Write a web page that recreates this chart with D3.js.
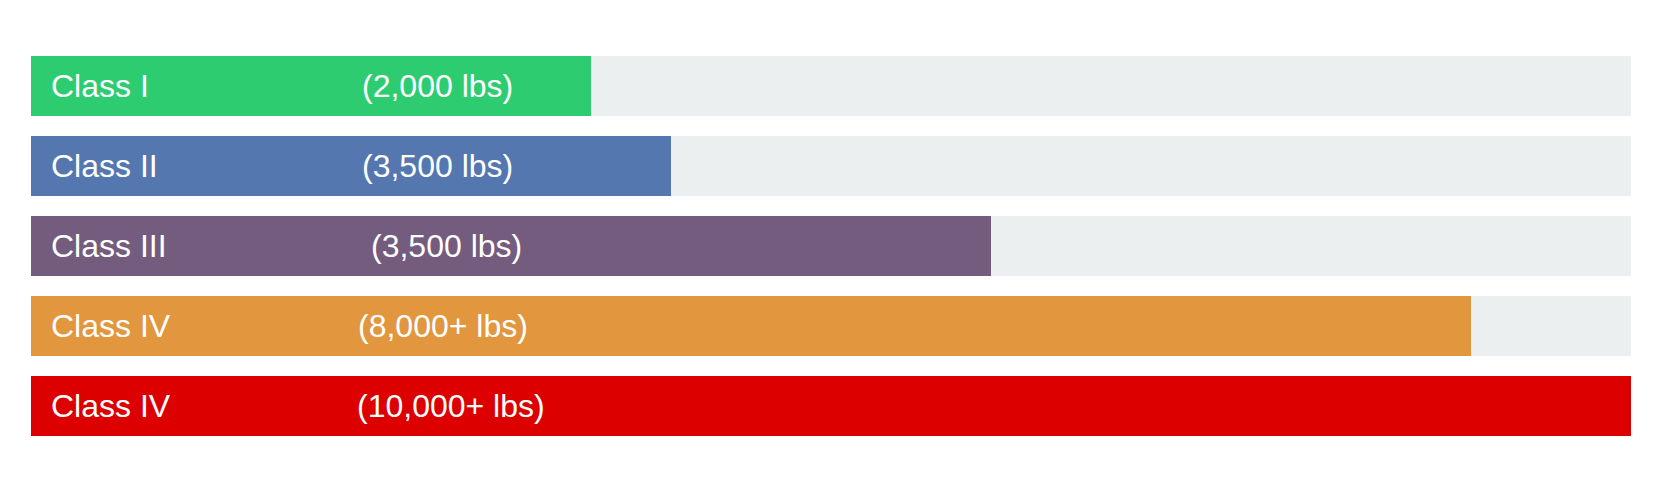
<!DOCTYPE html>
<html>
<head>
<meta charset="utf-8">
<script src="https://cdn.jsdelivr.net/npm/d3@7"></script>
<style>
  html, body { margin: 0; padding: 0; background: #ffffff; }
  svg { display: block; }
  text { font-family: "Liberation Sans", Arial, sans-serif; }
</style>
</head>
<body>
<svg id="chart" width="1666" height="480"></svg>
<script>
// ---- data ----
const categories = ["Class I", "Class II", "Class III", "Class IV", "Class IV"];
const capacities = ["(2,000 lbs)", "(3,500 lbs)", "(3,500 lbs)", "(8,000+ lbs)", "(10,000+ lbs)"];
const percents = [35, 40, 60, 90, 100];
const barColors = ["#2ecc71", "#5477af", "#735c7e", "#e2973e", "#dc0000"];

// ---- layout ----
const chartLeft = 31, chartRight = 1631, chartTop = 56, rowPitch = 80, barH = 60;
const detailDx = [331, 331, 340, 327, 326];

const svg = d3.select("#chart");
const x = d3.scaleLinear().domain([0, 100]).range([chartLeft, chartRight]);
const n = categories.length;
const y = d3.scaleBand()
  .domain(d3.range(n))
  .range([chartTop, chartTop + rowPitch * (n - 1) + barH])
  .paddingInner((rowPitch - barH) / rowPitch)
  .paddingOuter(0)
  .align(0);

const rows = svg.selectAll("g.row")
  .data(categories.map((c, i) => ({ c, cap: capacities[i], p: percents[i], color: barColors[i], i })))
  .join("g").attr("class", "row")
  .attr("transform", d => `translate(0,${y(d.i)})`);

rows.append("rect")
  .attr("x", x(0)).attr("y", 0)
  .attr("width", x(100) - x(0)).attr("height", y.bandwidth())
  .attr("fill", "#ebeff0");

rows.append("rect")
  .attr("x", x(0)).attr("y", 0)
  .attr("width", d => x(d.p) - x(0)).attr("height", y.bandwidth())
  .attr("fill", d => d.color);

rows.append("text")
  .attr("x", x(0) + 20).attr("y", y.bandwidth() / 2 + 10.5)
  .attr("fill", "#ffffff").attr("font-size", 32)
  .text(d => d.c);

rows.append("text")
  .attr("x", d => x(0) + detailDx[d.i]).attr("y", y.bandwidth() / 2 + 10.5)
  .attr("fill", "#ffffff").attr("font-size", 32)
  .text(d => d.cap);
</script>
</body>
</html>
